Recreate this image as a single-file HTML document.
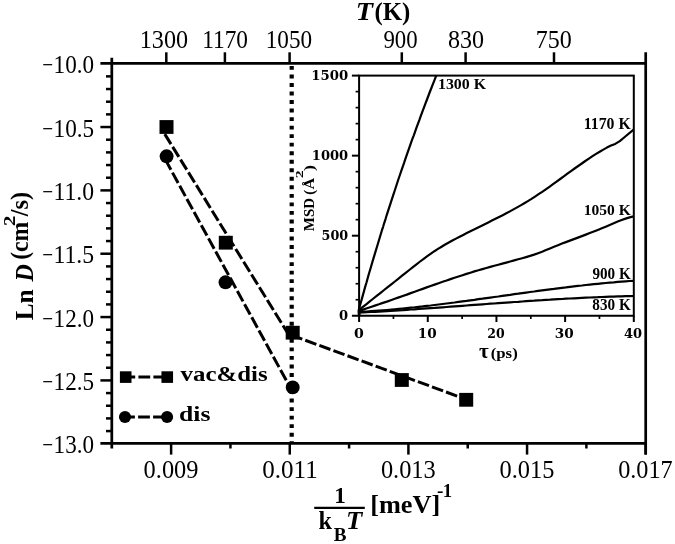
<!DOCTYPE html>
<html><head><meta charset="utf-8"><title>Ln D vs 1/kBT</title>
<style>html,body{margin:0;padding:0;background:#fff}svg{display:block}text{white-space:pre}</style>
</head><body>
<svg width="675" height="544" viewBox="0 0 675 544">
<rect width="675" height="544" fill="#fff"/>
<line x1="111.80" y1="57.80" x2="111.80" y2="448.50" stroke="#000" stroke-width="2.75" />
<line x1="645.70" y1="52.20" x2="645.70" y2="454.60" stroke="#000" stroke-width="2.7" />
<line x1="100.40" y1="63.30" x2="645.70" y2="63.30" stroke="#000" stroke-width="2.75" />
<line x1="100.40" y1="443.35" x2="645.70" y2="443.35" stroke="#000" stroke-width="2.75" />
<line x1="106.00" y1="76.37" x2="111.80" y2="76.37" stroke="#000" stroke-width="2.5" />
<line x1="106.00" y1="89.04" x2="111.80" y2="89.04" stroke="#000" stroke-width="2.5" />
<line x1="106.00" y1="101.71" x2="111.80" y2="101.71" stroke="#000" stroke-width="2.5" />
<line x1="106.00" y1="114.37" x2="111.80" y2="114.37" stroke="#000" stroke-width="2.5" />
<line x1="100.40" y1="127.04" x2="111.80" y2="127.04" stroke="#000" stroke-width="2.5" />
<line x1="106.00" y1="139.71" x2="111.80" y2="139.71" stroke="#000" stroke-width="2.5" />
<line x1="106.00" y1="152.38" x2="111.80" y2="152.38" stroke="#000" stroke-width="2.5" />
<line x1="106.00" y1="165.05" x2="111.80" y2="165.05" stroke="#000" stroke-width="2.5" />
<line x1="106.00" y1="177.72" x2="111.80" y2="177.72" stroke="#000" stroke-width="2.5" />
<line x1="100.40" y1="190.38" x2="111.80" y2="190.38" stroke="#000" stroke-width="2.5" />
<line x1="106.00" y1="203.05" x2="111.80" y2="203.05" stroke="#000" stroke-width="2.5" />
<line x1="106.00" y1="215.72" x2="111.80" y2="215.72" stroke="#000" stroke-width="2.5" />
<line x1="106.00" y1="228.39" x2="111.80" y2="228.39" stroke="#000" stroke-width="2.5" />
<line x1="106.00" y1="241.06" x2="111.80" y2="241.06" stroke="#000" stroke-width="2.5" />
<line x1="100.40" y1="253.72" x2="111.80" y2="253.72" stroke="#000" stroke-width="2.5" />
<line x1="106.00" y1="266.39" x2="111.80" y2="266.39" stroke="#000" stroke-width="2.5" />
<line x1="106.00" y1="279.06" x2="111.80" y2="279.06" stroke="#000" stroke-width="2.5" />
<line x1="106.00" y1="291.73" x2="111.80" y2="291.73" stroke="#000" stroke-width="2.5" />
<line x1="106.00" y1="304.40" x2="111.80" y2="304.40" stroke="#000" stroke-width="2.5" />
<line x1="100.40" y1="317.07" x2="111.80" y2="317.07" stroke="#000" stroke-width="2.5" />
<line x1="106.00" y1="329.73" x2="111.80" y2="329.73" stroke="#000" stroke-width="2.5" />
<line x1="106.00" y1="342.40" x2="111.80" y2="342.40" stroke="#000" stroke-width="2.5" />
<line x1="106.00" y1="355.07" x2="111.80" y2="355.07" stroke="#000" stroke-width="2.5" />
<line x1="106.00" y1="367.74" x2="111.80" y2="367.74" stroke="#000" stroke-width="2.5" />
<line x1="100.40" y1="380.41" x2="111.80" y2="380.41" stroke="#000" stroke-width="2.5" />
<line x1="106.00" y1="393.08" x2="111.80" y2="393.08" stroke="#000" stroke-width="2.5" />
<line x1="106.00" y1="405.74" x2="111.80" y2="405.74" stroke="#000" stroke-width="2.5" />
<line x1="106.00" y1="418.41" x2="111.80" y2="418.41" stroke="#000" stroke-width="2.5" />
<line x1="106.00" y1="431.08" x2="111.80" y2="431.08" stroke="#000" stroke-width="2.5" />
<line x1="171.12" y1="443.35" x2="171.12" y2="454.60" stroke="#000" stroke-width="2.5" />
<line x1="230.44" y1="443.35" x2="230.44" y2="448.50" stroke="#000" stroke-width="2.5" />
<line x1="289.77" y1="443.35" x2="289.77" y2="454.60" stroke="#000" stroke-width="2.5" />
<line x1="349.09" y1="443.35" x2="349.09" y2="448.50" stroke="#000" stroke-width="2.5" />
<line x1="408.41" y1="443.35" x2="408.41" y2="454.60" stroke="#000" stroke-width="2.5" />
<line x1="467.73" y1="443.35" x2="467.73" y2="448.50" stroke="#000" stroke-width="2.5" />
<line x1="527.06" y1="443.35" x2="527.06" y2="454.60" stroke="#000" stroke-width="2.5" />
<line x1="586.38" y1="443.35" x2="586.38" y2="448.50" stroke="#000" stroke-width="2.5" />
<line x1="645.70" y1="443.35" x2="645.70" y2="454.60" stroke="#000" stroke-width="2.5" />
<line x1="166.30" y1="52.30" x2="166.30" y2="63.30" stroke="#000" stroke-width="2.5" />
<line x1="224.90" y1="52.30" x2="224.90" y2="63.30" stroke="#000" stroke-width="2.5" />
<line x1="289.60" y1="52.30" x2="289.60" y2="63.30" stroke="#000" stroke-width="2.5" />
<line x1="401.80" y1="52.30" x2="401.80" y2="63.30" stroke="#000" stroke-width="2.5" />
<line x1="465.60" y1="52.30" x2="465.60" y2="63.30" stroke="#000" stroke-width="2.5" />
<line x1="554.00" y1="52.30" x2="554.00" y2="63.30" stroke="#000" stroke-width="2.5" />
<text transform="translate(42.34,73.20) scale(0.7656,1)" style="font-family:'Liberation Serif', serif;font-weight:normal;font-style:normal;font-size:25.00px" fill="#000" >−</text>
<text transform="translate(53.58,73.20) scale(0.9105,1)" style="font-family:'Liberation Serif', serif;font-weight:normal;font-style:normal;font-size:25.41px" fill="#000" >10.0</text>
<text transform="translate(42.34,136.54) scale(0.7656,1)" style="font-family:'Liberation Serif', serif;font-weight:normal;font-style:normal;font-size:25.00px" fill="#000" >−</text>
<text transform="translate(53.57,136.54) scale(0.9119,1)" style="font-family:'Liberation Serif', serif;font-weight:normal;font-style:normal;font-size:25.41px" fill="#000" >10.5</text>
<text transform="translate(42.34,199.88) scale(0.7656,1)" style="font-family:'Liberation Serif', serif;font-weight:normal;font-style:normal;font-size:25.00px" fill="#000" >−</text>
<text transform="translate(53.53,199.88) scale(0.9320,1)" style="font-family:'Liberation Serif', serif;font-weight:normal;font-style:normal;font-size:25.41px" fill="#000" >11.0</text>
<text transform="translate(42.34,263.22) scale(0.7656,1)" style="font-family:'Liberation Serif', serif;font-weight:normal;font-style:normal;font-size:25.00px" fill="#000" >−</text>
<text transform="translate(53.52,263.22) scale(0.9264,1)" style="font-family:'Liberation Serif', serif;font-weight:normal;font-style:normal;font-size:25.61px" fill="#000" >11.5</text>
<text transform="translate(42.34,326.57) scale(0.7656,1)" style="font-family:'Liberation Serif', serif;font-weight:normal;font-style:normal;font-size:25.00px" fill="#000" >−</text>
<text transform="translate(53.58,326.57) scale(0.9105,1)" style="font-family:'Liberation Serif', serif;font-weight:normal;font-style:normal;font-size:25.41px" fill="#000" >12.0</text>
<text transform="translate(42.34,389.91) scale(0.7656,1)" style="font-family:'Liberation Serif', serif;font-weight:normal;font-style:normal;font-size:25.00px" fill="#000" >−</text>
<text transform="translate(53.57,389.91) scale(0.9085,1)" style="font-family:'Liberation Serif', serif;font-weight:normal;font-style:normal;font-size:25.51px" fill="#000" >12.5</text>
<text transform="translate(42.34,453.25) scale(0.7656,1)" style="font-family:'Liberation Serif', serif;font-weight:normal;font-style:normal;font-size:25.00px" fill="#000" >−</text>
<text transform="translate(53.58,453.25) scale(0.9105,1)" style="font-family:'Liberation Serif', serif;font-weight:normal;font-style:normal;font-size:25.41px" fill="#000" >13.0</text>
<text transform="translate(143.61,477.90) scale(0.9773,1)" style="font-family:'Liberation Serif', serif;font-weight:normal;font-style:normal;font-size:24.96px" fill="#000" >0.009</text>
<text transform="translate(262.23,477.90) scale(1.0039,1)" style="font-family:'Liberation Serif', serif;font-weight:normal;font-style:normal;font-size:24.96px" fill="#000" >0.011</text>
<text transform="translate(380.90,477.90) scale(0.9773,1)" style="font-family:'Liberation Serif', serif;font-weight:normal;font-style:normal;font-size:24.96px" fill="#000" >0.013</text>
<text transform="translate(499.54,477.90) scale(0.9773,1)" style="font-family:'Liberation Serif', serif;font-weight:normal;font-style:normal;font-size:24.96px" fill="#000" >0.015</text>
<text transform="translate(618.19,477.90) scale(0.9717,1)" style="font-family:'Liberation Serif', serif;font-weight:normal;font-style:normal;font-size:24.96px" fill="#000" >0.017</text>
<text transform="translate(139.79,48.20) scale(0.9341,1)" style="font-family:'Liberation Serif', serif;font-weight:normal;font-style:normal;font-size:25.86px" fill="#000" >1300</text>
<text transform="translate(202.16,48.20) scale(0.9027,1)" style="font-family:'Liberation Serif', serif;font-weight:normal;font-style:normal;font-size:25.86px" fill="#000" >1170</text>
<text transform="translate(265.77,48.20) scale(0.8970,1)" style="font-family:'Liberation Serif', serif;font-weight:normal;font-style:normal;font-size:25.86px" fill="#000" >1050</text>
<text transform="translate(383.46,48.20) scale(0.8814,1)" style="font-family:'Liberation Serif', serif;font-weight:normal;font-style:normal;font-size:25.86px" fill="#000" >900</text>
<text transform="translate(447.90,48.20) scale(0.9306,1)" style="font-family:'Liberation Serif', serif;font-weight:normal;font-style:normal;font-size:25.86px" fill="#000" >830</text>
<text transform="translate(535.64,48.20) scale(0.9296,1)" style="font-family:'Liberation Serif', serif;font-weight:normal;font-style:normal;font-size:25.86px" fill="#000" >750</text>
<text transform="translate(355.75,20.10) scale(1.1491,1)" style="font-family:'Liberation Serif', serif;font-weight:bold;font-style:italic;font-size:24.58px" fill="#000" >T</text>
<text transform="translate(374.44,20.10) scale(1.0216,1)" style="font-family:'Liberation Serif', serif;font-weight:bold;font-style:normal;font-size:24.30px" fill="#000" >(K)</text>
<line x1="291.7" y1="65.95" x2="291.7" y2="443.35" stroke="#000" stroke-width="4.2" stroke-dasharray="3.9 4.63"/>
<line x1="163.0" y1="131.2" x2="291.5" y2="339.3" stroke="#000" stroke-width="3.0" stroke-dasharray="11.8 3.2" stroke-dashoffset="11.6"/>
<line x1="292.7" y1="335.6" x2="466.2" y2="399.4" stroke="#000" stroke-width="3.0" stroke-dasharray="11.8 3.2" stroke-dashoffset="1.6"/>
<line x1="166.6" y1="161.9" x2="292.7" y2="392.1" stroke="#000" stroke-width="3.0" stroke-dasharray="11.8 3.2" stroke-dashoffset="2.8"/>
<rect x="159.50" y="120.10" width="14" height="13.8" fill="#000"/>
<rect x="218.80" y="235.80" width="14" height="13.8" fill="#000"/>
<rect x="285.70" y="325.80" width="14" height="13.8" fill="#000"/>
<rect x="394.80" y="373.10" width="14" height="13.8" fill="#000"/>
<rect x="459.20" y="392.90" width="14" height="13.8" fill="#000"/>
<circle cx="166.6" cy="156.3" r="6.95" fill="#000"/>
<circle cx="225.5" cy="282.3" r="6.95" fill="#000"/>
<circle cx="292.7" cy="387.4" r="6.95" fill="#000"/>
<line x1="123.4" y1="377.0" x2="167" y2="377.0" stroke="#000" stroke-width="3.0" stroke-dasharray="11.8 3.2"/>
<line x1="123.1" y1="417.0" x2="167" y2="417.0" stroke="#000" stroke-width="3.0" stroke-dasharray="11.8 3.2"/>
<rect x="119.90" y="371.30" width="11.6" height="11.6" fill="#000"/>
<rect x="161.45" y="371.30" width="11.6" height="11.6" fill="#000"/>
<circle cx="125.0" cy="417.0" r="6.05" fill="#000"/>
<circle cx="167.1" cy="417.0" r="6.05" fill="#000"/>
<text transform="translate(180.60,381.10) scale(1.2011,1)" style="font-family:'Liberation Serif', serif;font-weight:bold;font-style:normal;font-size:20.70px" fill="#000" >vac&amp;dis</text>
<text transform="translate(179.07,421.00) scale(1.2410,1)" style="font-family:'Liberation Serif', serif;font-weight:bold;font-style:normal;font-size:20.70px" fill="#000" >dis</text>
<text transform="translate(32.60,320.34) rotate(-90) scale(1.0130,1)" style="font-family:'Liberation Serif', serif;font-weight:bold;font-style:normal;font-size:25.00px">Ln</text>
<text transform="translate(32.60,281.42) rotate(-90) scale(0.9555,1)" style="font-family:'Liberation Serif', serif;font-weight:bold;font-style:italic;font-size:25.00px">D</text>
<text transform="translate(27.90,259.80) rotate(-90) scale(0.9717,1)" style="font-family:'Liberation Serif', serif;font-weight:bold;font-style:normal;font-size:24.30px">(cm</text>
<text transform="translate(14.70,225.89) rotate(-90) scale(1.1911,1)" style="font-family:'Liberation Serif', serif;font-weight:bold;font-style:normal;font-size:17.60px">2</text>
<text transform="translate(27.90,216.26) rotate(-90) scale(1.0081,1)" style="font-family:'Liberation Serif', serif;font-weight:bold;font-style:normal;font-size:24.30px">/s)</text>
<text transform="translate(334.15,503.10) scale(0.9662,1)" style="font-family:'Liberation Serif', serif;font-weight:bold;font-style:normal;font-size:23.94px" fill="#000" >1</text>
<line x1="314.20" y1="507.85" x2="364.80" y2="507.85" stroke="#000" stroke-width="2.2" />
<text transform="translate(318.60,529.20) scale(0.9646,1)" style="font-family:'Liberation Serif', serif;font-weight:bold;font-style:normal;font-size:25.04px" fill="#000" >k</text>
<text transform="translate(333.67,541.00) scale(0.9632,1)" style="font-family:'Liberation Serif', serif;font-weight:bold;font-style:normal;font-size:19.85px" fill="#000" >B</text>
<text transform="translate(345.97,529.20) scale(1.0275,1)" style="font-family:'Liberation Serif', serif;font-weight:bold;font-style:italic;font-size:25.95px" fill="#000" >T</text>
<text transform="translate(370.13,513.30) scale(1.0689,1)" style="font-family:'Liberation Serif', serif;font-weight:bold;font-style:normal;font-size:24.60px" fill="#000" >[meV]</text>
<text transform="translate(437.08,497.00) scale(1.0339,1)" style="font-family:'Liberation Serif', serif;font-weight:bold;font-style:normal;font-size:18.60px" fill="#000" >-</text>
<text transform="translate(442.80,497.00) scale(0.9835,1)" style="font-family:'Liberation Serif', serif;font-weight:bold;font-style:normal;font-size:19.09px" fill="#000" >1</text>
<rect x="359.1" y="75.6" width="274.69999999999993" height="240.15" fill="none" stroke="#000" stroke-width="2.0"/>
<line x1="351.90" y1="315.75" x2="359.10" y2="315.75" stroke="#000" stroke-width="2.0" />
<line x1="355.60" y1="299.74" x2="359.10" y2="299.74" stroke="#000" stroke-width="1.7" />
<line x1="355.60" y1="283.73" x2="359.10" y2="283.73" stroke="#000" stroke-width="1.7" />
<line x1="355.60" y1="267.72" x2="359.10" y2="267.72" stroke="#000" stroke-width="1.7" />
<line x1="355.60" y1="251.71" x2="359.10" y2="251.71" stroke="#000" stroke-width="1.7" />
<line x1="351.90" y1="235.70" x2="359.10" y2="235.70" stroke="#000" stroke-width="2.0" />
<line x1="355.60" y1="219.69" x2="359.10" y2="219.69" stroke="#000" stroke-width="1.7" />
<line x1="355.60" y1="203.68" x2="359.10" y2="203.68" stroke="#000" stroke-width="1.7" />
<line x1="355.60" y1="187.67" x2="359.10" y2="187.67" stroke="#000" stroke-width="1.7" />
<line x1="355.60" y1="171.66" x2="359.10" y2="171.66" stroke="#000" stroke-width="1.7" />
<line x1="351.90" y1="155.65" x2="359.10" y2="155.65" stroke="#000" stroke-width="2.0" />
<line x1="355.60" y1="139.64" x2="359.10" y2="139.64" stroke="#000" stroke-width="1.7" />
<line x1="355.60" y1="123.63" x2="359.10" y2="123.63" stroke="#000" stroke-width="1.7" />
<line x1="355.60" y1="107.62" x2="359.10" y2="107.62" stroke="#000" stroke-width="1.7" />
<line x1="355.60" y1="91.61" x2="359.10" y2="91.61" stroke="#000" stroke-width="1.7" />
<line x1="351.90" y1="75.60" x2="359.10" y2="75.60" stroke="#000" stroke-width="2.0" />
<line x1="359.10" y1="315.75" x2="359.10" y2="322.00" stroke="#000" stroke-width="2.0" />
<line x1="393.44" y1="315.75" x2="393.44" y2="319.00" stroke="#000" stroke-width="1.7" />
<line x1="427.77" y1="315.75" x2="427.77" y2="322.00" stroke="#000" stroke-width="2.0" />
<line x1="462.11" y1="315.75" x2="462.11" y2="319.00" stroke="#000" stroke-width="1.7" />
<line x1="496.45" y1="315.75" x2="496.45" y2="322.00" stroke="#000" stroke-width="2.0" />
<line x1="530.79" y1="315.75" x2="530.79" y2="319.00" stroke="#000" stroke-width="1.7" />
<line x1="565.12" y1="315.75" x2="565.12" y2="322.00" stroke="#000" stroke-width="2.0" />
<line x1="599.46" y1="315.75" x2="599.46" y2="319.00" stroke="#000" stroke-width="1.7" />
<line x1="633.80" y1="315.75" x2="633.80" y2="322.00" stroke="#000" stroke-width="2.0" />
<text transform="translate(311.27,80.20) scale(1.0709,1)" style="font-family:'DejaVu Serif', serif;font-weight:bold;font-style:normal;font-size:12.39px" fill="#000" >1500</text>
<text transform="translate(311.80,160.25) scale(1.0555,1)" style="font-family:'DejaVu Serif', serif;font-weight:bold;font-style:normal;font-size:12.39px" fill="#000" >1000</text>
<text transform="translate(321.55,240.30) scale(1.0294,1)" style="font-family:'DejaVu Serif', serif;font-weight:bold;font-style:normal;font-size:12.39px" fill="#000" >500</text>
<text transform="translate(339.08,320.35) scale(1.0582,1)" style="font-family:'DejaVu Serif', serif;font-weight:bold;font-style:normal;font-size:12.39px" fill="#000" >0</text>
<text transform="translate(354.03,337.60) scale(1.1144,1)" style="font-family:'DejaVu Serif', serif;font-weight:bold;font-style:normal;font-size:12.66px" fill="#000" >0</text>
<text transform="translate(417.74,337.60) scale(1.0726,1)" style="font-family:'DejaVu Serif', serif;font-weight:bold;font-style:normal;font-size:12.66px" fill="#000" >10</text>
<text transform="translate(487.25,337.60) scale(0.9893,1)" style="font-family:'DejaVu Serif', serif;font-weight:bold;font-style:normal;font-size:12.66px" fill="#000" >20</text>
<text transform="translate(554.75,337.60) scale(1.0718,1)" style="font-family:'DejaVu Serif', serif;font-weight:bold;font-style:normal;font-size:12.66px" fill="#000" >30</text>
<text transform="translate(623.98,337.60) scale(1.0290,1)" style="font-family:'DejaVu Serif', serif;font-weight:bold;font-style:normal;font-size:12.66px" fill="#000" >40</text>
<text transform="translate(478.88,357.80) scale(1.0078,1)" style="font-family:'Liberation Serif', serif;font-weight:bold;font-style:normal;font-size:21.00px" fill="#000" >τ</text>
<text transform="translate(490.69,357.80) scale(1.0761,1)" style="font-family:'Liberation Serif', serif;font-weight:bold;font-style:normal;font-size:15.60px" fill="#000" >(ps)</text>
<text transform="translate(314.30,231.16) rotate(-90) scale(0.9830,1)" style="font-family:'Liberation Serif', serif;font-weight:bold;font-style:normal;font-size:15.20px">MSD</text>
<text transform="translate(314.30,194.89) rotate(-90) scale(1.0605,1)" style="font-family:'Liberation Serif', serif;font-weight:bold;font-style:normal;font-size:15.20px">(Å</text>
<text transform="translate(303.40,178.28) rotate(-90) scale(1.6741,1)" style="font-family:'Liberation Serif', serif;font-weight:bold;font-style:normal;font-size:9.50px">2</text>
<text transform="translate(314.30,170.89) rotate(-90) scale(1.2008,1)" style="font-family:'Liberation Serif', serif;font-weight:bold;font-style:normal;font-size:15.20px">)</text>
<text transform="translate(438.03,89.40) scale(1.0233,1)" style="font-family:'Liberation Serif', serif;font-weight:bold;font-style:normal;font-size:15.49px" fill="#000" >1300 K</text>
<text transform="translate(583.74,128.90) scale(1.0107,1)" style="font-family:'Liberation Serif', serif;font-weight:bold;font-style:normal;font-size:15.64px" fill="#000" >1170 K</text>
<text transform="translate(583.76,215.30) scale(0.9918,1)" style="font-family:'Liberation Serif', serif;font-weight:bold;font-style:normal;font-size:15.64px" fill="#000" >1050 K</text>
<text transform="translate(592.38,278.90) scale(0.9697,1)" style="font-family:'Liberation Serif', serif;font-weight:bold;font-style:normal;font-size:15.64px" fill="#000" >900 K</text>
<text transform="translate(592.31,310.00) scale(0.9717,1)" style="font-family:'Liberation Serif', serif;font-weight:bold;font-style:normal;font-size:15.64px" fill="#000" >830 K</text>
<polyline fill="none" stroke="#000" stroke-width="2.2" stroke-linejoin="round" points="359.1,315.7 358.7,310.3 359.8,306.3 360.9,302.3 362.0,298.4 363.1,294.4 364.2,290.4 365.3,286.4 366.5,282.5 367.6,278.5 368.7,274.5 369.9,270.5 371.1,266.5 372.2,262.6 373.4,258.6 374.6,254.6 375.8,250.6 377.0,246.7 378.2,242.7 379.4,238.7 380.6,234.7 381.8,230.7 383.1,226.8 384.3,222.8 385.6,218.8 386.8,214.8 388.1,210.9 389.4,206.9 390.7,202.9 392.0,198.9 393.3,194.9 394.6,191.0 395.9,187.0 397.2,183.0 398.5,179.0 399.9,175.0 401.2,171.1 402.6,167.1 404.0,163.1 405.3,159.1 406.7,155.2 408.1,151.2 409.5,147.2 410.9,143.2 412.3,139.2 413.8,135.3 415.2,131.3 416.6,127.3 418.1,123.3 419.6,119.4 421.0,115.4 422.5,111.4 424.0,107.4 425.5,103.4 427.0,99.5 428.5,95.5 430.0,91.5 431.6,87.5 433.1,83.6 434.7,79.6 436.2,75.6"/>
<polyline fill="none" stroke="#000" stroke-width="2.2" stroke-linejoin="round" points="359.1,315.7 359.0,310.2 362.6,307.2 366.2,304.3 369.8,301.4 373.4,298.5 377.0,295.6 380.6,292.8 384.1,290.0 387.7,287.1 391.3,284.3 394.9,281.5 398.5,278.6 402.1,275.7 405.7,272.8 409.3,270.0 412.9,267.1 416.5,264.3 420.1,261.5 423.7,258.8 427.3,256.2 430.9,253.7 434.4,251.2 438.0,248.9 441.6,246.7 445.2,244.5 448.8,242.5 452.4,240.5 456.0,238.6 459.6,236.7 463.2,234.9 466.8,233.1 470.4,231.3 474.0,229.6 477.6,227.8 481.2,226.0 484.7,224.2 488.3,222.4 491.9,220.6 495.5,218.8 499.1,217.0 502.7,215.2 506.3,213.3 509.9,211.4 513.5,209.4 517.1,207.4 520.7,205.4 524.3,203.3 527.9,201.1 531.5,198.9 535.0,196.6 538.6,194.2 542.2,191.8 545.8,189.3 549.4,186.8 553.0,184.2 556.6,181.6 560.2,179.0 563.8,176.4 567.4,173.7 571.0,171.1 574.6,168.5 578.2,166.0 581.8,163.5 585.3,161.0 588.9,158.6 592.5,156.2 596.1,153.9 599.7,151.7 603.3,149.6 606.9,147.6 611.0,145.6 615.2,143.9 619.8,141.1 625.3,136.5 633.6,129.6"/>
<polyline fill="none" stroke="#000" stroke-width="2.2" stroke-linejoin="round" points="359.1,315.7 359.0,310.8 363.0,309.6 367.0,308.3 370.9,307.0 374.9,305.6 378.9,304.3 382.9,302.9 386.9,301.6 390.8,300.2 394.8,298.8 398.8,297.4 402.8,296.0 406.8,294.6 410.7,293.1 414.7,291.7 418.7,290.3 422.7,288.9 426.7,287.4 430.6,286.0 434.6,284.6 438.6,283.2 442.6,281.8 446.6,280.5 450.5,279.1 454.5,277.8 458.5,276.5 462.5,275.2 466.5,273.9 470.4,272.7 474.4,271.4 478.4,270.3 482.4,269.1 486.4,268.0 490.3,266.9 494.3,265.8 498.3,264.7 502.3,263.6 506.2,262.6 510.2,261.5 514.2,260.4 518.2,259.3 522.2,258.2 526.1,257.1 530.1,255.9 534.1,254.6 538.1,253.2 542.1,251.7 546.0,250.1 550.0,248.4 554.0,246.8 558.0,245.2 562.0,243.6 565.9,242.1 569.9,240.6 573.9,239.1 577.9,237.6 581.9,236.1 585.8,234.6 589.8,233.0 593.8,231.5 597.8,229.9 601.8,228.3 605.7,226.7 609.7,225.0 613.7,223.3 617.7,221.6 621.7,220.0 625.6,218.6 629.6,217.4 633.6,216.4"/>
<polyline fill="none" stroke="#000" stroke-width="2.2" stroke-linejoin="round" points="359.1,315.7 359.0,312.0 363.0,311.7 367.0,311.5 370.9,311.2 374.9,310.9 378.9,310.6 382.9,310.3 386.9,310.0 390.8,309.7 394.8,309.3 398.8,308.9 402.8,308.5 406.8,308.1 410.7,307.7 414.7,307.3 418.7,306.8 422.7,306.4 426.7,305.9 430.6,305.5 434.6,305.0 438.6,304.5 442.6,304.0 446.6,303.5 450.5,303.0 454.5,302.5 458.5,301.9 462.5,301.4 466.5,300.9 470.4,300.3 474.4,299.8 478.4,299.2 482.4,298.7 486.4,298.1 490.3,297.6 494.3,297.0 498.3,296.5 502.3,295.9 506.2,295.3 510.2,294.8 514.2,294.2 518.2,293.7 522.2,293.1 526.1,292.6 530.1,292.0 534.1,291.5 538.1,290.9 542.1,290.4 546.0,289.9 550.0,289.4 554.0,288.9 558.0,288.3 562.0,287.8 565.9,287.4 569.9,286.9 573.9,286.4 577.9,285.9 581.9,285.5 585.8,285.0 589.8,284.6 593.8,284.2 597.8,283.8 601.8,283.4 605.7,283.0 609.7,282.6 613.7,282.3 617.7,281.9 621.7,281.6 625.6,281.3 629.6,281.0 633.6,280.8"/>
<polyline fill="none" stroke="#000" stroke-width="2.2" stroke-linejoin="round" points="359.1,315.7 359.0,312.7 363.0,312.4 367.0,312.2 370.9,312.0 374.9,311.8 378.9,311.6 382.9,311.3 386.9,311.1 390.8,310.8 394.8,310.6 398.8,310.3 402.8,310.1 406.8,309.8 410.7,309.5 414.7,309.3 418.7,309.0 422.7,308.7 426.7,308.4 430.6,308.1 434.6,307.9 438.6,307.6 442.6,307.3 446.6,307.0 450.5,306.7 454.5,306.4 458.5,306.1 462.5,305.8 466.5,305.5 470.4,305.2 474.4,304.9 478.4,304.6 482.4,304.3 486.4,304.0 490.3,303.7 494.3,303.5 498.3,303.2 502.3,302.9 506.2,302.6 510.2,302.3 514.2,302.0 518.2,301.8 522.2,301.5 526.1,301.2 530.1,300.9 534.1,300.7 538.1,300.4 542.1,300.2 546.0,299.9 550.0,299.7 554.0,299.4 558.0,299.2 562.0,299.0 565.9,298.7 569.9,298.5 573.9,298.3 577.9,298.1 581.9,297.9 585.8,297.7 589.8,297.5 593.8,297.3 597.8,297.2 601.8,297.0 605.7,296.8 609.7,296.7 613.7,296.6 617.7,296.4 621.7,296.3 625.6,296.2 629.6,296.1 633.6,296.0"/>
</svg>
</body></html>
